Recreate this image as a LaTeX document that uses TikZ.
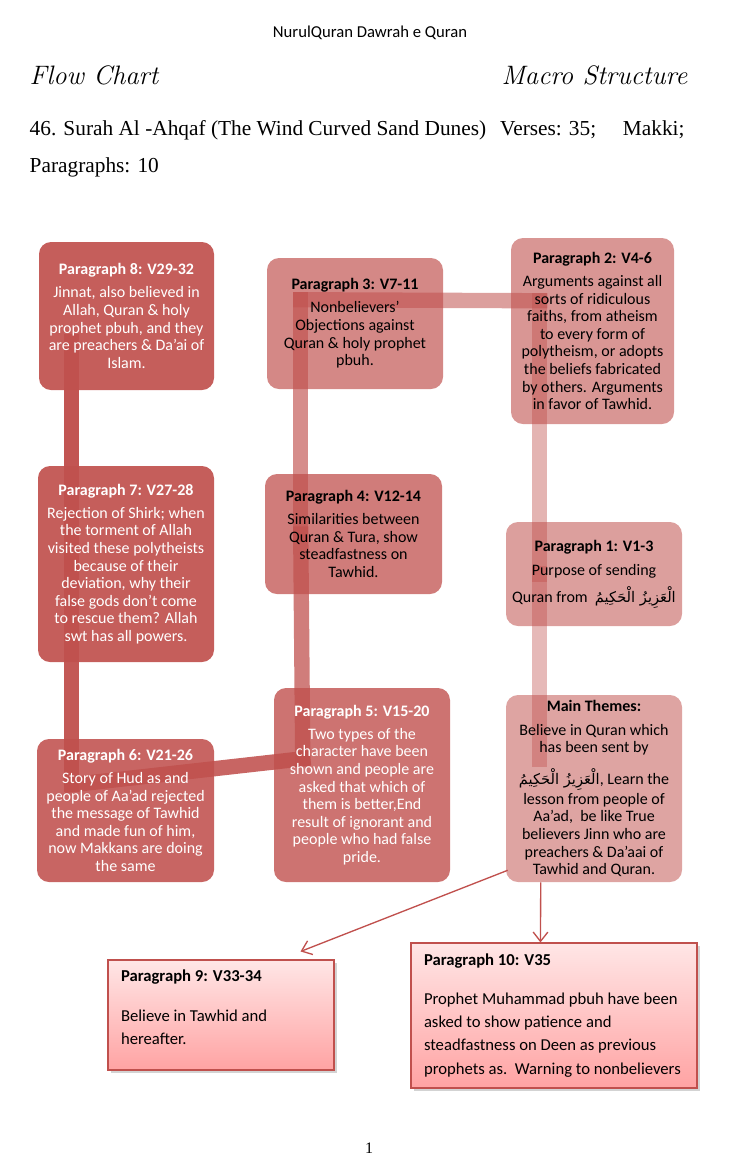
\documentclass[tikz,border=0pt]{standalone}
\usepackage{fontspec}
\usepackage{tikz}
\usetikzlibrary{positioning,arrows.meta,calc,backgrounds,shadows}
\usepackage{xcolor}
\TeXXeTstate=1
\newfontfamily\calibri{Carlito}
\newfontfamily\timesfont{Liberation Serif}
\newfontfamily\arabicfont[Script=Arabic]{DejaVu Sans}
\definecolor{SmartRed}{RGB}{192,80,77}
\definecolor{PinkTop}{RGB}{255,230,230}
\definecolor{PinkBottom}{RGB}{255,163,163}
\newcommand{\azizhakim}{{\arabicfont\fontsize{11}{13}\selectfont\beginR الْعَزِيزُ الْحَكِيمُ\endR}}

\begin{document}
\begin{tikzpicture}[
  x=0.75pt, y=-0.75pt,
  every node/.style={font=\calibri\fontsize{12}{13.2}\selectfont},
  parabox/.style={fill=SmartRed, rounded corners=9pt, align=center, inner sep=0pt, text opacity=1},
  lighttext/.style={text=white},
  notebox/.style={draw=SmartRed, line width=0.8pt, top color=PinkTop, bottom color=PinkBottom, inner sep=0pt, drop shadow={shadow xshift=2.5pt, shadow yshift=-2.5pt, opacity=0.35}},
  band/.style={SmartRed, line width=11.5pt, line cap=rect},
  arrow/.style={-{Straight Barb[length=7pt,width=11pt]}, SmartRed, line width=1pt}
]
\useasboundingbox (0,0) rectangle (752,1172);

\node[anchor=base, font=\calibri\fontsize{12.5}{15}\selectfont] (header) at (370,37) {NurulQuran Dawrah e Quran};
\node[anchor=base west, font=\itshape\fontsize{20}{24}\selectfont] (flow) at (25,84) {Flow Chart};
\node[anchor=base east, font=\itshape\fontsize{20}{24}\selectfont] (macro) at (692,84) {Macro Structure};
\node[anchor=base west, font=\timesfont\fontsize{16}{19}\selectfont] (surah) at (25,135) {46. Surah Al -Ahqaf (The Wind Curved Sand Dunes)\hspace{10.5pt}Verses: 35;\hspace{20pt}Makki;};
\node[anchor=base west, font=\timesfont\fontsize{16}{19}\selectfont] (paras) at (25,172) {Paragraphs: 10};

\node[parabox, lighttext, fill opacity=0.92, minimum width=131.25pt, minimum height=111pt] (p8) at (126.5,316)
  {\textbf{Paragraph 8: V29-32}\\[4pt] Jinnat, also believed in\\ Allah, Quran \& holy\\ prophet pbuh, and they\\ are preachers \& Da’ai of\\ Islam.};
\node[parabox, fill opacity=0.68, minimum width=132pt, minimum height=98.25pt] (p3) at (355,323.5)
  {\textbf{Paragraph 3: V7-11}\\[4pt] Nonbelievers’\\ Objections against\\ Quran \& holy prophet\\ pbuh.};
\node[parabox, fill opacity=0.6, minimum width=122.25pt, minimum height=139.5pt] (p2) at (592.5,331)
  {\textbf{Paragraph 2: V4-6}\\[4pt] Arguments against all\\ sorts of ridiculous\\ faiths, from atheism\\ to every form of\\ polytheism, or adopts\\ the beliefs fabricated\\ by others. Arguments\\ in favor of Tawhid.};
\node[parabox, lighttext, fill opacity=0.92, minimum width=132pt, minimum height=147pt] (p7) at (126,564)
  {\textbf{Paragraph 7: V27-28}\\[4pt] Rejection of Shirk; when\\ the torment of Allah\\ visited these polytheists\\ because of their\\ deviation, why their\\ false gods don’t come\\ to rescue them? Allah\\ swt has all powers.};
\node[parabox, fill opacity=0.75, minimum width=132.75pt, minimum height=90pt] (p4) at (353.5,534)
  {\textbf{Paragraph 4: V12-14}\\[4pt] Similarities between\\ Quran \& Tura, show\\ steadfastness on\\ Tawhid.};
\node[parabox, fill opacity=0.55, minimum width=132pt, minimum height=78pt] (p1) at (594,574)
  {\textbf{Paragraph 1: V1-3}\\[4.8pt] Purpose of sending\\[5.5pt] Quran from\ \ \azizhakim};
\node[parabox, lighttext, fill opacity=0.88, minimum width=132.75pt, minimum height=107.25pt] (p6) at (125.5,810.5)
  {\textbf{Paragraph 6: V21-26}\\[4pt] Story of Hud as and\\ people of Aa’ad rejected\\ the message of Tawhid\\ and made fun of him,\\ now Makkans are doing\\ the same};
\node[parabox, lighttext, fill opacity=0.8, minimum width=132pt, minimum height=145.5pt] (p5) at (362,785)
  {\textbf{Paragraph 5: V15-20}\\[4pt] Two types of the\\ character have been\\ shown and people are\\ asked that which of\\ them is better,End\\ result of ignorant and\\ people who had false\\ pride.};
\node[parabox, fill opacity=0.52, minimum width=132pt, minimum height=140.25pt] (mt) at (594,788.5)
  {\textbf{Main Themes:}\\[4.5pt] Believe in Quran which\\ has been sent by\\[9pt] \azizhakim, Learn the\\[1.5pt] lesson from people of\\ Aa’ad,\ \ be like True\\ believers Jinn who are\\ preachers \& Da’aai of\\ Tawhid and Quran.};

\node[notebox] (p9) at (221,1015)
  {\parbox[c][82.5pt][t]{169.5pt}{\fontsize{12.5}{17.4}\selectfont\leftskip=9.75pt
   \vspace*{7.1pt}\textbf{Paragraph 9: V33-34}\\[12.6pt] Believe in Tawhid and\\ hereafter.}};
\node[notebox] (p10) at (554,1015.5)
  {\parbox[c][108.75pt][t]{214.5pt}{\fontsize{12.5}{17.6}\selectfont\leftskip=9.75pt
   \vspace*{7.8pt}\textbf{Paragraph 10: V35}\\[11.6pt] Prophet Muhammad pbuh have been\\ asked to show patience and\\ steadfastness on Deen as previous\\ prophets as.\ \ Warning to nonbelievers}};

\node[anchor=base, font=\timesfont\fontsize{12}{14}\selectfont] (pagenum) at (369,1153) {1};

\coordinate (k1) at ($(mt.north west)+(34,65)$);
\coordinate (k2) at ($(p1.west)+(34,0)$);
\coordinate (k3) at ($(p2.north west)+(29,63)$);
\coordinate (k4) at ($(p3.north west)+(34,42)$);
\coordinate (k5) at ($(p4.west)+(36,0)$);
\coordinate (k6) at ($(p5.north west)+(29,71)$);
\coordinate (k7) at ($(p6.north west)+(35,46)$);
\coordinate (k8) at ($(p7.west)+(34,0)$);
\coordinate (k9) at ($(p8.north west)+(33,100)$);

\begin{scope}[on background layer]
\draw[band, opacity=0.40] (k1) -- (k2);
\draw[band, opacity=0.43] (k2) -- (k3);
\draw[band, opacity=0.55] (k3) -- (k4);
\draw[band, opacity=0.65] (k4) -- (k5);
\draw[band, opacity=0.74] (k5) -- (k6);
\draw[band, opacity=0.88] (k6) -- (k7);
\draw[band, opacity=0.95] (k7) -- (k8);
\draw[band, opacity=0.97] (k8) -- (k9);
\end{scope}

\draw[arrow] ($(mt.south west)+(2,-12)$) -- ($(p9.north east)+(-34,-8)$);
\draw[arrow] ($(mt.south west)+(35,0)$) -- ($(p10.north west)+(130,0)$);
\end{tikzpicture}
\end{document}
